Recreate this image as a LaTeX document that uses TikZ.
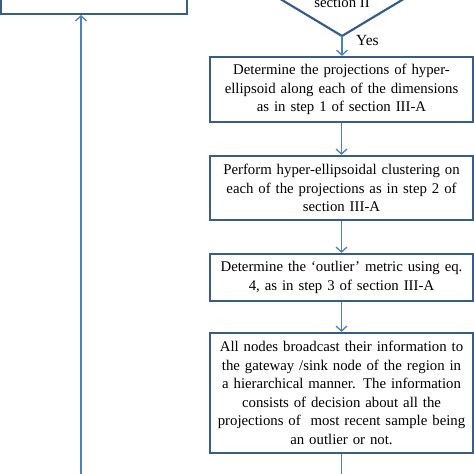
\documentclass[tikz,border=0pt]{standalone}
\usepackage{fontspec}
\setmainfont{Liberation Serif}
\usetikzlibrary{arrows.meta}
\definecolor{boxc}{HTML}{385D8A}
\definecolor{arrc}{HTML}{4F81BD}
\begin{document}
\begin{tikzpicture}[x=1bp,y=-1bp,
  stepbox/.style={draw=boxc, line width=2.2bp, fill=white, minimum width=263bp,
    text width=262bp, align=center, inner sep=0pt,
    font=\fontsize{14.8bp}{18.5bp}\selectfont},
  arr/.style={draw=arrc, line width=1.3bp, -{Straight Barb[length=5bp,width=11bp,line width=1.3bp]}},
  plain/.style={draw=arrc, line width=1.3bp},
  lbl/.style={font=\fontsize{14.8bp}{18.5bp}\selectfont, inner sep=0pt}]
\useasboundingbox (0,0) rectangle (474,474);
\clip (0,0) rectangle (474,474);
\fill[white] (0,0) rectangle (474,474);
% left box (cut off at the top)
\node[draw=boxc, line width=2.2bp, fill=white, minimum width=186bp, minimum height=80bp,
  inner sep=0pt, anchor=south] (lbox) at (94,15) {};
% diamond (cut off at the top)
\draw[boxc, line width=2.2bp] (242,-24) -- (342,36) -- (442,-24);
\coordinate (dbot) at (342,36);
\node[lbl, anchor=base] (sec) at (342,8) {section II};
\node[lbl, anchor=base west, font=\fontsize{15.5bp}{18.5bp}\selectfont] (yes) at (356,46) {Yes};
% boxes
\node[stepbox, minimum height=65bp] (b1) at (341.5,89.5)
  {Determine the projections of hyper-\\ellipsoid along each of the dimensions\\as in step 1 of section III-A};
\node[stepbox, minimum height=64bp] (b2) at (341.5,188)
  {Perform hyper-ellipsoidal clustering on\\each of the projections as in step 2 of\\section III-A};
\node[stepbox, minimum height=47bp] (b3) at (341.5,277.5)
  {Determine the ‘outlier’ metric using eq.\\4, as in step 3 of section III-A};
\node[stepbox, minimum height=120bp] (b4) at (341.5,393)
  {All nodes broadcast their information to\\the gateway /sink node of the region in\\a hierarchical manner. The information\\consists of decision about all the\\projections of\ \ most recent sample being\\an outlier or not.};
% connectors
\draw[arr] (dbot) -- (b1.north -| dbot);
\draw[arr] (b1) -- (b2);
\draw[arr] (b2) -- (b3);
\draw[arr] (b3) -- (b4);
\coordinate (bend) at (341.5,480);
\draw[plain] (b4) -- (bend);
\coordinate (lstart) at (81,480);
\draw[arr] (lstart) -- (lstart |- lbox.south);
\end{tikzpicture}
\end{document}
